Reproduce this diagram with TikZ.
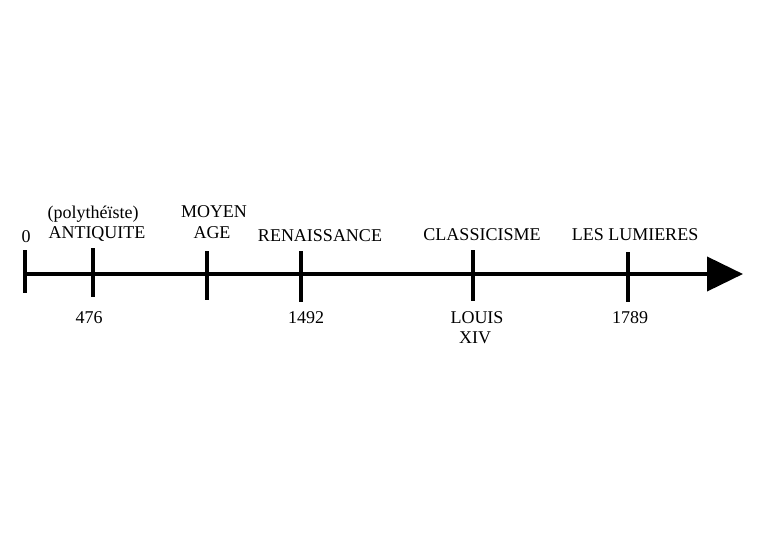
\documentclass[tikz,border=0pt]{standalone}
\usepackage{fontspec}
\setmainfont{Liberation Serif}
\usepackage{tikz}
\usetikzlibrary{arrows.meta}

\tikzset{
    axis/.style={line width=4pt, -{Triangle[length=36pt,width=34pt]}},
    tick/.style={line width=4pt},
    label/.style={anchor=base, inner sep=0pt, font=\fontsize{18}{21}\selectfont}
}

\begin{document}
\begin{tikzpicture}[x=1pt,y=-1pt]
    \useasboundingbox (0,0) rectangle (768,543);

    \coordinate (start) at (23,274);
    \coordinate (end) at (743,274);
    \draw[axis] (start) -- (end);

    \draw[tick] (25,250) -- (25,293);
    \draw[tick] (93,248) -- (93,297);
    \draw[tick] (207,251) -- (207,300);
    \draw[tick] (301,251) -- (301,302);
    \draw[tick] (473,250) -- (473,301);
    \draw[tick] (628,252) -- (628,302);

    \node[label] (zero) at (26,242) {0};
    \node[label] (poly) at (93,218) {(polythéïste)};
    \node[label] (antiquite) at (97,238) {ANTIQUITE};
    \node[label] (moyen) at (214,217) {MOYEN};
    \node[label] (age) at (212,238) {AGE};
    \node[label] (renaissance) at (320,241) {RENAISSANCE};
    \node[label] (classicisme) at (482,240) {CLASSICISME};
    \node[label] (lumieres) at (635,240) {LES LUMIERES};

    \node[label] (d476) at (89,323) {476};
    \node[label] (d1492) at (306,323) {1492};
    \node[label] (louis) at (477,323) {LOUIS};
    \node[label] (xiv) at (475,343) {XIV};
    \node[label] (d1789) at (630,323) {1789};
\end{tikzpicture}
\end{document}
